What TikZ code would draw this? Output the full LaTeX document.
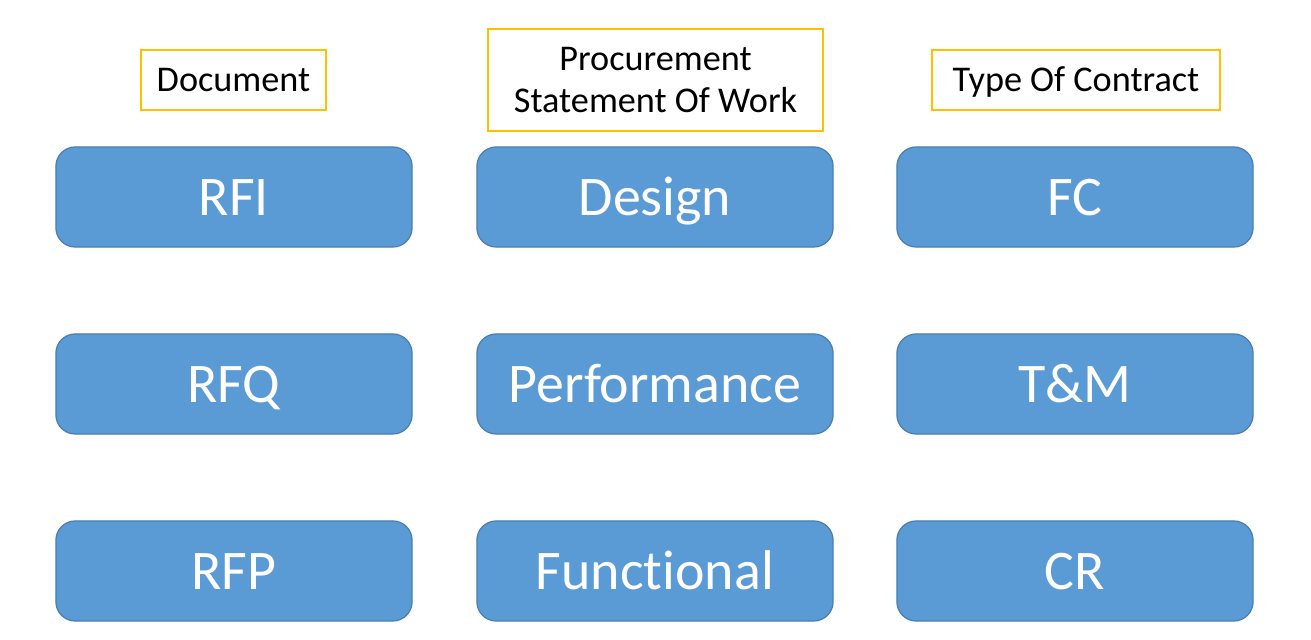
\documentclass[tikz,border=0pt]{standalone}
\usepackage{fontspec}
\setmainfont{Carlito}[Ligatures=NoCommon]
\definecolor{boxblue}{HTML}{5B9BD5}
\definecolor{boxedge}{HTML}{4A7EB0}
\definecolor{headgold}{HTML}{FFC000}
\tikzset{
  blockbox/.style={draw=boxedge, line width=0.35pt, fill=boxblue, rounded corners=5.5pt,
    minimum width=3.56cm, minimum height=1cm, text=white, inner sep=0pt,
    text height=0.36cm, text depth=0pt,
    font=\fontsize{15.9}{19}\selectfont},
  headbox/.style={draw=headgold, line width=0.5pt, fill=white, inner sep=0pt,
    align=center, font=\fontsize{10.3}{12}\selectfont}
}
\begin{document}
\begin{tikzpicture}[x=0.01cm,y=-0.01cm]
  \useasboundingbox (0,0) rectangle (1311,640);
  % headings
  \node[headbox, minimum width=1.85cm, minimum height=0.6cm, text height=0.23cm, text depth=0pt] (hdoc) at (233.5,80) {Document};
  \node[headbox, minimum width=3.35cm, minimum height=1.02cm] (hsow) at (655.5,80) {Procurement\\Statement Of Work};
  \node[headbox, minimum width=2.88cm, minimum height=0.6cm, text height=0.23cm, text depth=0pt] (htype) at (1076,80) {Type Of Contract};
  % documents
  \node[blockbox] (rfi) at (234,197) {RFI};
  \node[blockbox] (rfq) at (234,384) {RFQ};
  \node[blockbox] (rfp) at (234,571) {RFP};
  % statements of work
  \node[blockbox] (design) at (655,197) {Design};
  \node[blockbox] (perf) at (655,384) {Performance};
  \node[blockbox] (func) at (655,571) {Functional};
  % contracts
  \node[blockbox] (fc) at (1075,197) {FC};
  \node[blockbox] (tm) at (1075,384) {T\&M};
  \node[blockbox] (cr) at (1075,571) {CR};
\end{tikzpicture}
\end{document}
